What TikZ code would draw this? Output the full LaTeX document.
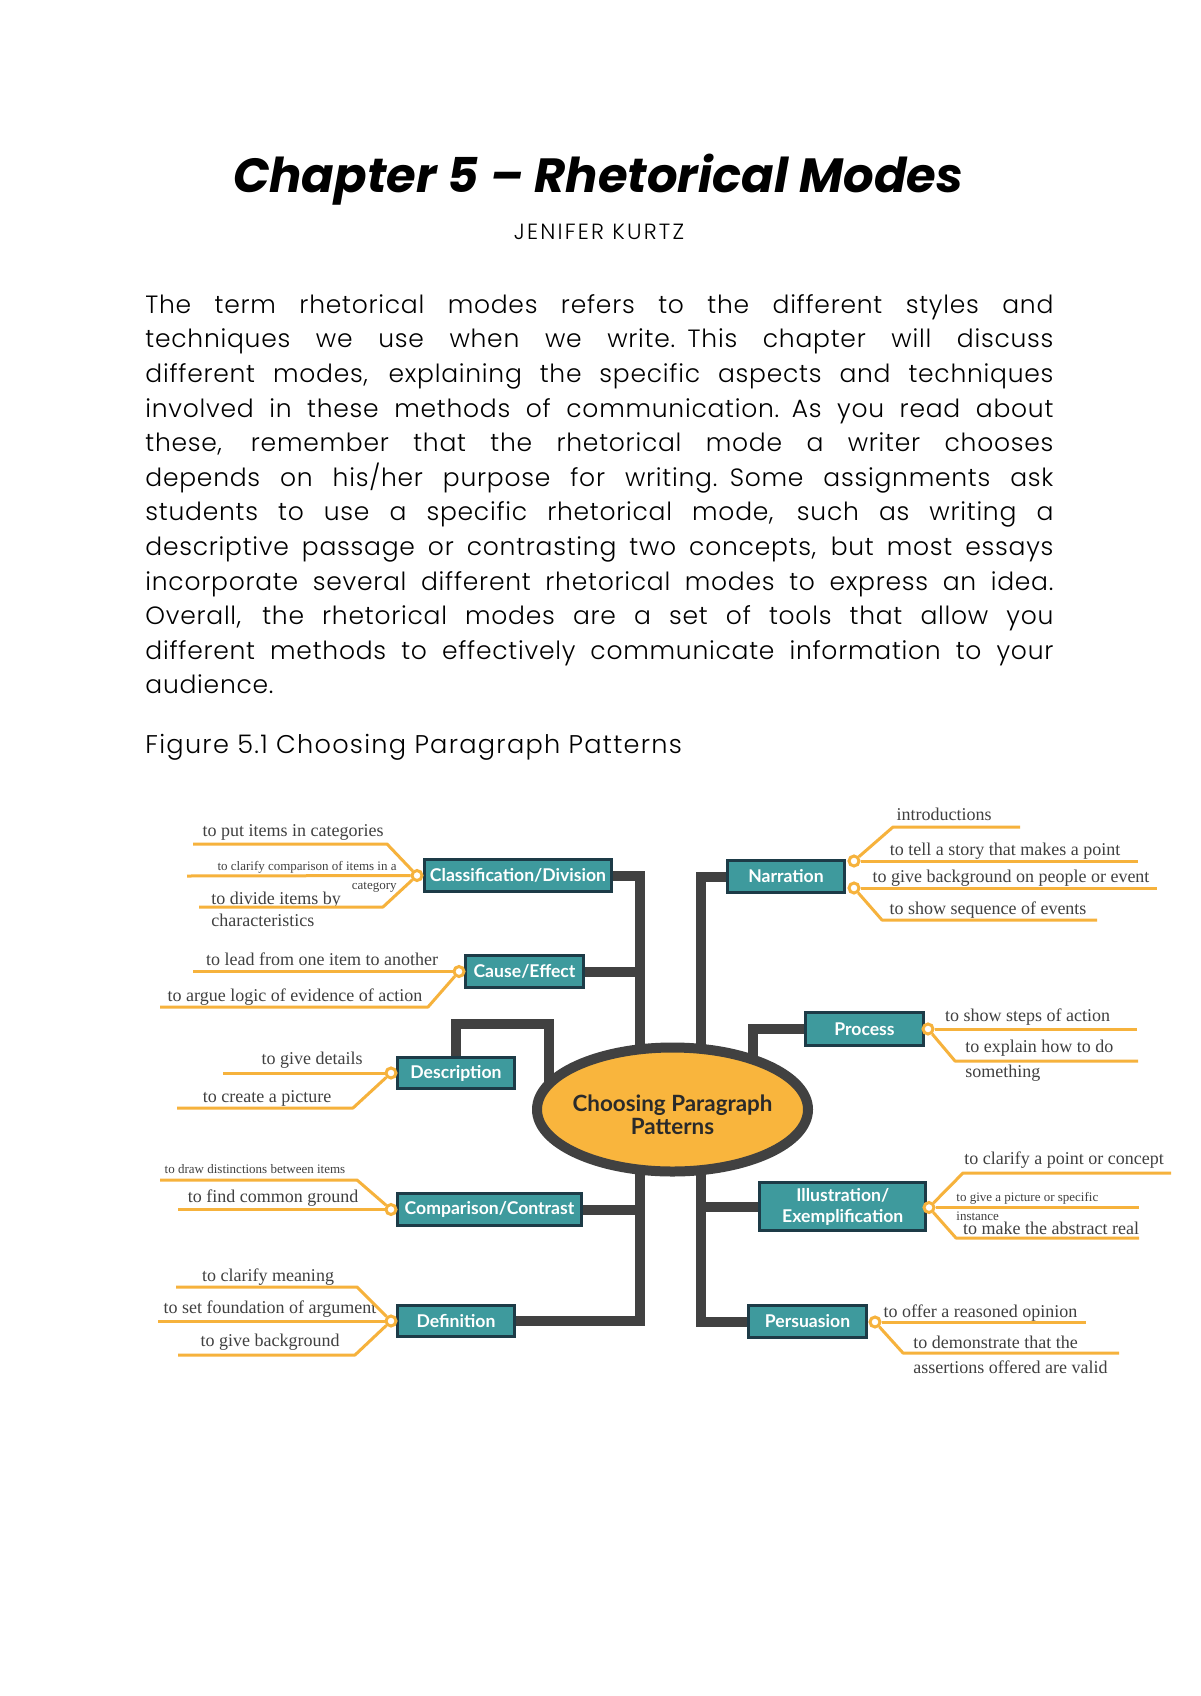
\documentclass[tikz,border=0pt]{standalone}
\usepackage{fontspec}
\setmainfont{Poppins}
\newfontfamily\bodyfont{Poppins Light}
\newfontfamily\leaffont{Liberation Serif}
\newfontfamily\boxfont{Lato}
\usetikzlibrary{shapes.geometric,backgrounds,calc}
\definecolor{teal1}{HTML}{3E9A9D}
\definecolor{boxline}{HTML}{1D3B47}
\definecolor{trunkc}{HTML}{414141}
\definecolor{orng}{HTML}{F6B23C}
\definecolor{ellfill}{HTML}{F9B53D}
\definecolor{leafc}{HTML}{404040}
\definecolor{ctext}{HTML}{2A2A2A}
\newcommand{\jline}[1]{\hbox to 454pt{\spaceskip=3.3pt plus 1fil\relax #1}}
\begin{document}
\begin{tikzpicture}[x=0.5pt,y=-0.5pt,
  mbox/.style={draw=boxline, line width=1.5pt, fill=teal1, text=white,
    font=\boxfont\bfseries\fontsize{8.8}{10.5}\selectfont, inner sep=0pt, align=center},
  leaf/.style={font=\leaffont\fontsize{9}{11}\selectfont, text=leafc, inner sep=0pt},
  leafsm/.style={font=\leaffont\fontsize{6.5}{9.5}\selectfont, text=leafc, inner sep=0pt},
  hub/.style={circle, draw=orng, fill=white, line width=1.5pt, minimum size=5pt, inner sep=0pt},
  trunk/.style={draw=trunkc, line width=5pt, line join=miter},
  orbranch/.style={draw=orng, line width=1.5pt, line join=round},
]
\useasboundingbox (0,0) rectangle (1200,1696);

% ---------- text part ----------
\node[anchor=base, inner sep=0pt, font=\bfseries\itshape\fontsize{24}{28}\selectfont] (title) at (598,193) {Chapter 5 – Rhetorical Modes};
\node[anchor=base, inner sep=0pt, font=\bodyfont\fontsize{11}{13}\selectfont\addfontfeature{LetterSpace=10}] (author) at (599,240) {JENIFER KURTZ};
\node[anchor=north west, text width=454pt, inner sep=0pt,
      font=\bodyfont\fontsize{12.5}{17.3}\selectfont\addfontfeature{LetterSpace=3}] (body) at (145,294) {%
\jline{The term rhetorical modes refers to the different styles and}
\jline{techniques we use when we write. This chapter will discuss}
\jline{different modes, explaining the specific aspects and techniques}
\jline{involved in these methods of communication. As you read about}
\jline{these, remember that the rhetorical mode a writer chooses}
\jline{depends on his/her purpose for writing. Some assignments ask}
\jline{students to use a specific rhetorical mode, such as writing a}
\jline{descriptive passage or contrasting two concepts, but most essays}
\jline{incorporate several different rhetorical modes to express an idea.}
\jline{Overall, the rhetorical modes are a set of tools that allow you}
\jline{different methods to effectively communicate information to your}
\hbox{audience.}};
\node[anchor=base west, inner sep=0pt, font=\bodyfont\fontsize{12.8}{14}\selectfont\addfontfeature{LetterSpace=5}] (cap) at (145,753) {Figure 5.1 Choosing Paragraph Patterns};

% ---------- diagram: centre ----------
\node[ellipse, draw=trunkc, line width=5pt, fill=ellfill, minimum width=135.5pt, minimum height=62pt,
      inner sep=0pt] (ell) at (672.5,1109.5) {};
\node[align=center, inner sep=0pt, text=ctext, font=\boxfont\bfseries\fontsize{11.2}{11.6}\selectfont]
      (elltext) at ([yshift=-2.5pt]ell.center) {Choosing Paragraph\\Patterns};

% ---------- mode boxes ----------
\node[mbox, minimum width=93.5pt, minimum height=16pt] (cls)   at (518,875.5)  {Classification/Division};
\node[mbox, minimum width=59pt,   minimum height=16pt] (cause) at (524.5,971.5) {Cause/Effect};
\node[mbox, minimum width=58.5pt, minimum height=15.5pt] (desc) at (456,1073)  {Description};
\node[mbox, minimum width=92pt,   minimum height=16pt] (comp)  at (489.5,1209.5) {Comparison/Contrast};
\node[mbox, minimum width=58.5pt, minimum height=15.5pt] (def)  at (456,1321)  {Definition};
\node[mbox, minimum width=58.5pt, minimum height=16pt] (nar)   at (786,876.5)  {Narration};
\node[mbox, minimum width=59pt,   minimum height=16.5pt] (proc) at (864.5,1029) {Process};
\node[mbox, minimum width=83pt,   minimum height=24pt] (ill)   at (842.75,1206.5) {Illustration/\\Exemplification};
\node[mbox, minimum width=59pt,   minimum height=16pt] (pers)  at (807.5,1321.5)  {Persuasion};

% ---------- trunk connectors ----------
\coordinate (tL) at ([xshift=-16.25pt]ell.center);
\coordinate (tR) at ([xshift=14pt]ell.center);
\coordinate (pe) at ([xshift=40.25pt]ell.center);
\coordinate (dtop) at (549,1024);
\begin{pgfonlayer}{background}
\fill[white] (0,0) rectangle (1200,1696);
\draw[trunk] (cls.east) -| (tL);
\draw[trunk] (cause.east) -- (cause.east -| tL);
\draw[trunk] (comp.east) -- (comp.east -| tL);
\draw[trunk] (def.east) -| (tL);
\draw[trunk] (desc.north) |- (dtop) -- (dtop |- ell.center);
\draw[trunk] (nar.west) -| (tR);
\draw[trunk] (proc.west) -| (pe);
\draw[trunk] (ill.west) -- (ill.west -| tR);
\draw[trunk] (pers.west) -| (tR);
\end{pgfonlayer}

% ---------- hubs ----------
\node[hub] (hc)  at (417,875.5) {};
\node[hub] (he)  at (459,971.5) {};
\node[hub] (hd)  at (391,1073) {};
\node[hub] (hm)  at (391,1209.5) {};
\node[hub] (hf)  at (391,1321) {};
\node[hub] (hna) at (854,861) {};
\node[hub] (hnb) at (854,888) {};
\node[hub] (hp)  at (928,1029) {};
\node[hub] (hi)  at (929,1207.5) {};
\node[hub] (hs)  at (875,1322) {};

% ---------- leaf texts ----------
\node[leaf] (c1) at (293,832) {to put items in categories};
\node[leafsm, align=right, anchor=east] (c2) at (397,876.5) {to clarify comparison of items in a\\category};
\node[leaf, align=left, anchor=west] (c3) at (211,909) {to divide items by\\characteristics};
\node[leaf] (e1) at (322,959) {to lead from one item to another};
\node[leaf] (e2) at (295,997) {to argue logic of evidence of action};
\node[leaf] (d1) at (312,1060) {to give details};
\node[leaf] (d2) at (267,1098) {to create a picture};
\node[leafsm] (m1) at (255,1169) {to draw distinctions between items};
\node[leaf] (m2) at (273,1198) {to find common ground};
\node[leaf] (f1) at (268,1277) {to clarify meaning};
\node[leaf] (f2) at (270,1309) {to set foundation of argument};
\node[leaf] (f3) at (270,1342) {to give background};
\node[leaf] (n1) at (944,814) {introductions};
\node[leaf] (n2) at (1005,851) {to tell a story that makes a point};
\node[leaf] (n3) at (1011,878) {to give background on people or event};
\node[leaf] (n4) at (988,910) {to show sequence of events};
\node[leaf] (p1) at (1027.5,1017) {to show steps of action};
\node[leaf, align=left, anchor=west, font=\leaffont\fontsize{9}{12.5}\selectfont] (p2) at (965,1060.5) {to explain how to do\\something};
\node[leaf] (i1) at (1064,1160) {to clarify a point or concept};
\node[leafsm, align=left, anchor=west] (i2) at (956,1206) {to give a picture or specific\\instance};
\node[leaf] (i3) at (1051,1228) {to make the abstract real};
\node[leaf] (s1) at (980.5,1313) {to offer a reasoned opinion};
\node[leaf, align=left, anchor=west, font=\leaffont\fontsize{9}{12.5}\selectfont] (s2) at (913,1354.5) {to demonstrate that the\\assertions offered are valid};

% ---------- leaf underline ends ----------
\coordinate (c1s) at (193,844);  \coordinate (c1k) at (387,844);
\coordinate (c2s) at (187,876);
\coordinate (c3s) at (199,907);  \coordinate (c3k) at (383,907);
\coordinate (e1s) at (193,971.5);
\coordinate (e2s) at (160,1007); \coordinate (e2k) at (428,1007);
\coordinate (d1s) at (223,1073);
\coordinate (d2s) at (177,1108); \coordinate (d2k) at (353,1108);
\coordinate (m1s) at (160,1180); \coordinate (m1k) at (357,1180);
\coordinate (m2s) at (178,1209.5);
\coordinate (f1s) at (176,1287); \coordinate (f1k) at (357,1287);
\coordinate (f2s) at (158,1321);
\coordinate (f3s) at (178,1355); \coordinate (f3k) at (355,1355);
\coordinate (n1k) at (893,827);  \coordinate (n1e) at (1020,827);
\coordinate (n2e) at (1138,861);
\coordinate (n3e) at (1157,888);
\coordinate (n4k) at (882,920);  \coordinate (n4e) at (1097,920);
\coordinate (p1e) at (1137,1029);
\coordinate (p2k) at (955,1061); \coordinate (p2e) at (1138,1061);
\coordinate (i1k) at (963,1173); \coordinate (i1e) at (1171,1173);
\coordinate (i2e) at (1139,1207.5);
\coordinate (i3k) at (956,1238); \coordinate (i3e) at (1139,1238);
\coordinate (s1e) at (1086,1322);
\coordinate (s2k) at (903,1353); \coordinate (s2e) at (1119,1353);

\draw[orbranch] (c1s) -- (c1k) -- (hc);
\draw[orbranch] (c2s) -- (hc);
\draw[orbranch] (c3s) -- (c3k) -- (hc);
\draw[orbranch] (e1s) -- (he);
\draw[orbranch] (e2s) -- (e2k) -- (he);
\draw[orbranch] (d1s) -- (hd);
\draw[orbranch] (d2s) -- (d2k) -- (hd);
\draw[orbranch] (m1s) -- (m1k) -- (hm);
\draw[orbranch] (m2s) -- (hm);
\draw[orbranch] (f1s) -- (f1k) -- (hf);
\draw[orbranch] (f2s) -- (hf);
\draw[orbranch] (f3s) -- (f3k) -- (hf);
\draw[orbranch] (hna) -- (n1k) -- (n1e);
\draw[orbranch] (hna) -- (n2e);
\draw[orbranch] (hnb) -- (n3e);
\draw[orbranch] (hnb) -- (n4k) -- (n4e);
\draw[orbranch] (hp) -- (p1e);
\draw[orbranch] (hp) -- (p2k) -- (p2e);
\draw[orbranch] (hi) -- (i1k) -- (i1e);
\draw[orbranch] (hi) -- (i2e);
\draw[orbranch] (hi) -- (i3k) -- (i3e);
\draw[orbranch] (hs) -- (s1e);
\draw[orbranch] (hs) -- (s2k) -- (s2e);
\end{tikzpicture}
\end{document}
